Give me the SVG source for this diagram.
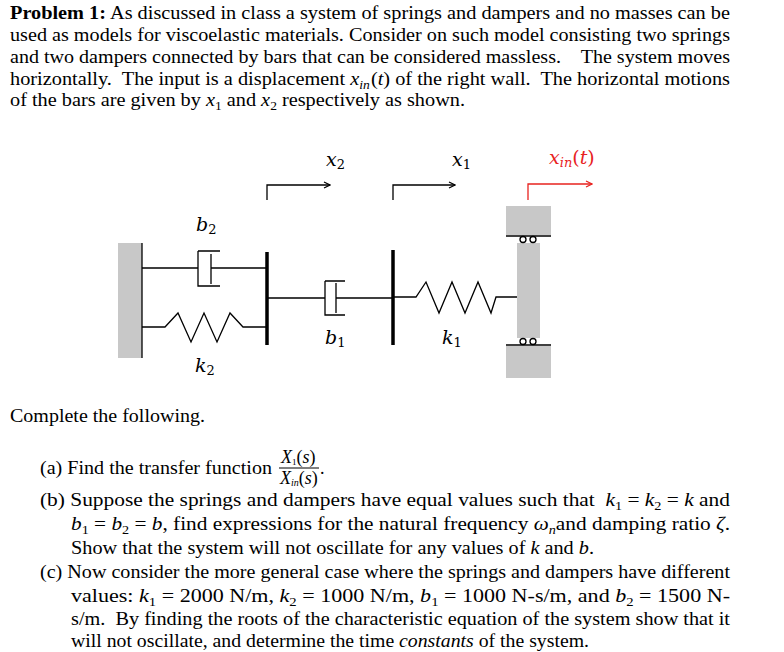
<svg xmlns="http://www.w3.org/2000/svg" width="784" height="652" viewBox="0 0 784 652">
<style>
text{font-family:"Liberation Serif",serif;font-size:18px;fill:#000;white-space:pre}
.i{font-style:italic}
.s{font-size:12px}
.m{font-family:"DejaVu Serif",serif;font-style:italic;font-size:19px}
.ms{font-size:13px;font-style:normal}
.ln{stroke:#000;stroke-width:1.3;fill:none}
.bar{stroke:#000;stroke-width:3.5}
.g{fill:#c8c8c8;stroke:none}
</style>
<defs>
<marker id="ah" markerWidth="8" markerHeight="8" refX="7" refY="4" orient="auto" markerUnits="userSpaceOnUse"><path d="M1,1 L7,4 L1,7" fill="none" stroke="#000" stroke-width="1.2"/></marker>
<marker id="ahr" markerWidth="8" markerHeight="8" refX="7" refY="4" orient="auto" markerUnits="userSpaceOnUse"><path d="M1,1 L7,4 L1,7" fill="none" stroke="#e8231f" stroke-width="1.2"/></marker>
</defs>
<g id="text-top">
<text x="10" y="19" textLength="720" lengthAdjust="spacingAndGlyphs"><tspan font-weight="bold">Problem 1:</tspan> As discussed in class a system of springs and dampers and no masses can be</text>
<text x="10" y="41" textLength="720" lengthAdjust="spacingAndGlyphs">used as models for viscoelastic materials. Consider on such model consisting two springs</text>
<text x="10" y="63" textLength="720" lengthAdjust="spacingAndGlyphs">and two dampers connected by bars that can be considered massless.    The system moves</text>
<text x="10" y="85" textLength="720" lengthAdjust="spacingAndGlyphs">horizontally.  The input is a displacement <tspan class="i">x</tspan><tspan class="i s" dy="4">in</tspan><tspan dy="-4" dx="1">(</tspan><tspan class="i">t</tspan>) of the right wall.  The horizontal motions</text>
<text x="10" y="106" textLength="455" lengthAdjust="spacingAndGlyphs">of the bars are given by <tspan class="i">x</tspan><tspan class="s" dy="4">1</tspan><tspan dy="-4"> and </tspan><tspan class="i">x</tspan><tspan class="s" dy="4">2</tspan><tspan dy="-4"> respectively as shown.</tspan></text>
</g>
<g id="left-wall"><rect class="g" x="118" y="243" width="24" height="115"/><line class="ln" x1="142" y1="243" x2="142" y2="358"/></g>
<g id="bar2"><line class="bar" x1="267" y1="252" x2="267" y2="345"/></g>
<g id="bar1"><line class="bar" x1="393" y1="250" x2="393" y2="345"/></g>
<g id="right-wall">
<rect class="g" x="506" y="206" width="45" height="29"/><line class="ln" x1="506" y1="236" x2="551" y2="236"/>
<rect class="g" x="506" y="346" width="45" height="32"/><line class="ln" x1="506" y1="345" x2="551" y2="345"/>
<rect class="g" x="517" y="243" width="23" height="95" stroke="#000" stroke-width="1.3"/>
<circle class="ln" cx="523" cy="239.5" r="3"/><circle class="ln" cx="533" cy="239.5" r="3"/>
<circle class="ln" cx="523" cy="341.5" r="3"/><circle class="ln" cx="533" cy="341.5" r="3"/>
</g>
<g id="connectors">
<path class="ln" d="M142,268 H198 M198,251 H220 M198,251 V286 H220 M211,268 H267 M211,254 V284"/>
<path class="ln" d="M142,327 H165 L178,313 L191,342 L204,313 L217,342 L230,313 L243,327 H267"/>
<path class="ln" d="M267,298 H325 M325,281 H345 M325,281 V315 H345 M336,298 H393 M336,283 V313"/>
<path class="ln" d="M393,297 H416 L426,282 L439,313 L452,282 L465,313 L478,282 L491,313 L496,297 H517"/>
<path class="ln" d="M267,200 V185 H330" marker-end="url(#ah)"/>
<path class="ln" d="M393,200 V185 H455" marker-end="url(#ah)"/>
<path d="M528,200 V184 H592" fill="none" stroke="#e8231f" stroke-width="1.3" marker-end="url(#ahr)"/>
</g>
<g id="labels">
<text class="m" x="326" y="166">x<tspan class="ms" dy="3">2</tspan></text>
<text class="m" x="452" y="166">x<tspan class="ms" dy="3">1</tspan></text>
<text class="m" x="549" y="164" style="fill:#e8231f">x<tspan font-size="13" dy="3">in</tspan><tspan dy="-3" font-style="normal">(</tspan>t<tspan font-style="normal">)</tspan></text>
<text class="m" x="196" y="231">b<tspan class="ms" dy="3">2</tspan></text>
<text class="m" x="195" y="372">k<tspan class="ms" dy="3">2</tspan></text>
<text class="m" x="325" y="344">b<tspan class="ms" dy="3">1</tspan></text>
<text class="m" x="442" y="344">k<tspan class="ms" dy="3">1</tspan></text>
</g>
<g id="text-bottom">
<text x="10" y="422" textLength="195" lengthAdjust="spacingAndGlyphs">Complete the following.</text>
<text x="40" y="474" textLength="232" lengthAdjust="spacingAndGlyphs">(a) Find the transfer function</text>
<text x="281" y="463" font-size="13" class="i">X<tspan font-style="normal" font-size="9" dy="2">1</tspan><tspan dy="-2" font-style="normal">(</tspan>s<tspan font-style="normal">)</tspan></text>
<line x1="279" y1="468" x2="319" y2="468" stroke="#000" stroke-width="1"/>
<text x="280" y="484" font-size="13" class="i">X<tspan font-size="10" dy="2">in</tspan><tspan dy="-2" font-style="normal">(</tspan>s<tspan font-style="normal">)</tspan></text>
<text x="320" y="474">.</text>
<text x="40" y="506" textLength="690" lengthAdjust="spacingAndGlyphs">(b) Suppose the springs and dampers have equal values such that  <tspan class="i">k</tspan><tspan class="s" dy="4">1</tspan><tspan dy="-4"> = </tspan><tspan class="i">k</tspan><tspan class="s" dy="4">2</tspan><tspan dy="-4"> = </tspan><tspan class="i">k</tspan> and</text>
<text x="71" y="530" textLength="659" lengthAdjust="spacingAndGlyphs"><tspan class="i">b</tspan><tspan class="s" dy="4">1</tspan><tspan dy="-4"> = </tspan><tspan class="i">b</tspan><tspan class="s" dy="4">2</tspan><tspan dy="-4"> = </tspan><tspan class="i">b</tspan>, find expressions for the natural frequency <tspan class="i">ω</tspan><tspan class="i s" dy="4">n</tspan><tspan dy="-4">and damping ratio </tspan><tspan class="i">ζ</tspan>.</text>
<text x="71" y="554" textLength="523" lengthAdjust="spacingAndGlyphs">Show that the system will not oscillate for any values of <tspan class="i">k</tspan> and <tspan class="i">b</tspan>.</text>
<text x="40" y="578" textLength="690" lengthAdjust="spacingAndGlyphs">(c) Now consider the more general case where the springs and dampers have different</text>
<text x="71" y="602" textLength="659" lengthAdjust="spacingAndGlyphs">values: <tspan class="i">k</tspan><tspan class="s" dy="4">1</tspan><tspan dy="-4"> = 2000 N/m, </tspan><tspan class="i">k</tspan><tspan class="s" dy="4">2</tspan><tspan dy="-4"> = 1000 N/m, </tspan><tspan class="i">b</tspan><tspan class="s" dy="4">1</tspan><tspan dy="-4"> = 1000 N-s/m, and </tspan><tspan class="i">b</tspan><tspan class="s" dy="4">2</tspan><tspan dy="-4"> = 1500 N-</tspan></text>
<text x="71" y="625" textLength="659" lengthAdjust="spacingAndGlyphs">s/m.  By finding the roots of the characteristic equation of the system show that it</text>
<text x="71" y="647" textLength="518" lengthAdjust="spacingAndGlyphs">will not oscillate, and determine the time <tspan class="i">constants</tspan> of the system.</text>
</g>
</svg>
